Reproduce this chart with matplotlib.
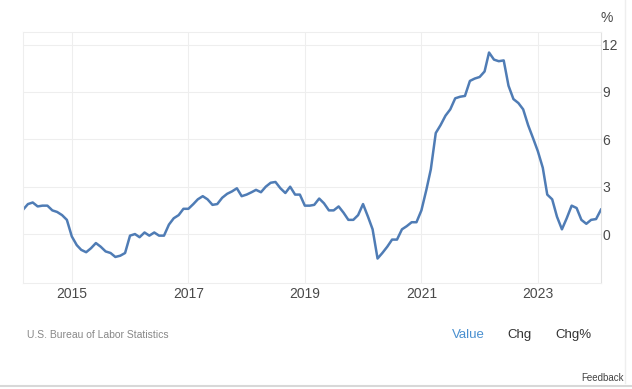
import numpy as np
import pandas as pd
import matplotlib
matplotlib.use("Agg")
from matplotlib import pyplot as plt

plt.rcParams['font.family'] = ['Liberation Sans', 'DejaVu Sans']

# monthly yoy %, Mar 2014 - Feb 2024
months = pd.date_range("2014-03-01", "2024-02-01", freq="MS")
v2014 = [1.54, 1.9, 2.0, 1.75, 1.8, 1.8, 1.5, 1.4, 1.2, 0.9]
v2015 = [-0.15, -0.7, -1.0, -1.15, -0.9, -0.57, -0.8, -1.1, -1.2, -1.45, -1.37, -1.2]
v2016 = [-0.1, 0.0, -0.2, 0.1, -0.1, 0.1, -0.1, -0.1, 0.6, 1.0, 1.2, 1.6]
v2017 = [1.6, 1.9, 2.2, 2.4, 2.2, 1.85, 1.9, 2.3, 2.55, 2.7, 2.9, 2.4]
v2018 = [2.5, 2.65, 2.8, 2.65, 3.0, 3.25, 3.3, 2.9, 2.6, 3.0, 2.5, 2.5]
v2019 = [1.8, 1.8, 1.85, 2.25, 1.95, 1.5, 1.5, 1.75, 1.35, 0.9, 0.9, 1.2]
v2020 = [1.9, 1.1, 0.3, -1.55, -1.2, -0.8, -0.35, -0.35, 0.3, 0.5, 0.75, 0.75]
v2021 = [1.5, 2.8, 4.1, 6.4, 6.9, 7.5, 7.9, 8.6, 8.7, 8.75, 9.7, 9.85]
v2022 = [9.95, 10.3, 11.5, 11.05, 10.95, 11.0, 9.4, 8.55, 8.3, 7.9, 6.9, 6.1]
v2023 = [5.25, 4.2, 2.5, 2.2, 1.1, 0.3, 1.0, 1.8, 1.65, 0.9, 0.65, 0.9]
v2024 = [0.95, 1.55]
values = v2014 + v2015 + v2016 + v2017 + v2018 + v2019 + v2020 + v2021 + v2022 + v2023 + v2024

yticks = [0, 3, 6, 9, 12]
xyears = [2015, 2017, 2019, 2021, 2023]

fig = plt.figure(figsize=(6.32, 3.89), dpi=100)
ax = fig.add_axes([23/632, 1-283/389, 578/632, 251/389])

ax.plot(months, values, color='#4f7cb5', lw=1.8, solid_joinstyle='round')

ax.set_xlim(months[0], months[-1])
ax.set_ylim(-3.1, 12.8)
ax.set_yticks(yticks)
ax.set_xticks([pd.Timestamp(f"{y}-01-01") for y in xyears])
ax.set_xticklabels([str(y) for y in xyears])
ax.yaxis.tick_right()
ax.grid(True, color='#eeeeee', lw=0.8)
ax.tick_params(length=0, labelsize=10, colors='#4a4a4a')
ax.tick_params(axis='y', pad=1)
ax.tick_params(axis='x', pad=3)
for s in ax.spines:
    ax.spines[s].set_color('#eeeeee')
ax.spines['right'].set_color('#e2e2e2')

fig.text(607/632, 1-18/389, '%', fontsize=10, color='#4a4a4a', ha='center', va='center')
fig.text(27/632, 1-335/389, 'U.S. Bureau of Labor Statistics', fontsize=7.5, color='#888888', va='center')
fig.text(468/632, 1-335/389, 'Value', fontsize=9.5, color='#4a90d0', ha='center', va='center')
fig.text(520/632, 1-335/389, 'Chg', fontsize=9.5, color='#333333', ha='center', va='center')
fig.text(573/632, 1-335/389, 'Chg%', fontsize=9.5, color='#333333', ha='center', va='center')
fig.text(624/632, 1-378/389, 'Feedback', fontsize=7, color='#444444', ha='right', va='center')
fig.add_artist(plt.Line2D([0, 1], [3/389, 3/389], color='#d8d8d8', lw=1.5))
fig.add_artist(plt.Line2D([625/632, 625/632], [6/389, 1], color='#eeeeee', lw=1))

fig.savefig("out.png", dpi=100)
